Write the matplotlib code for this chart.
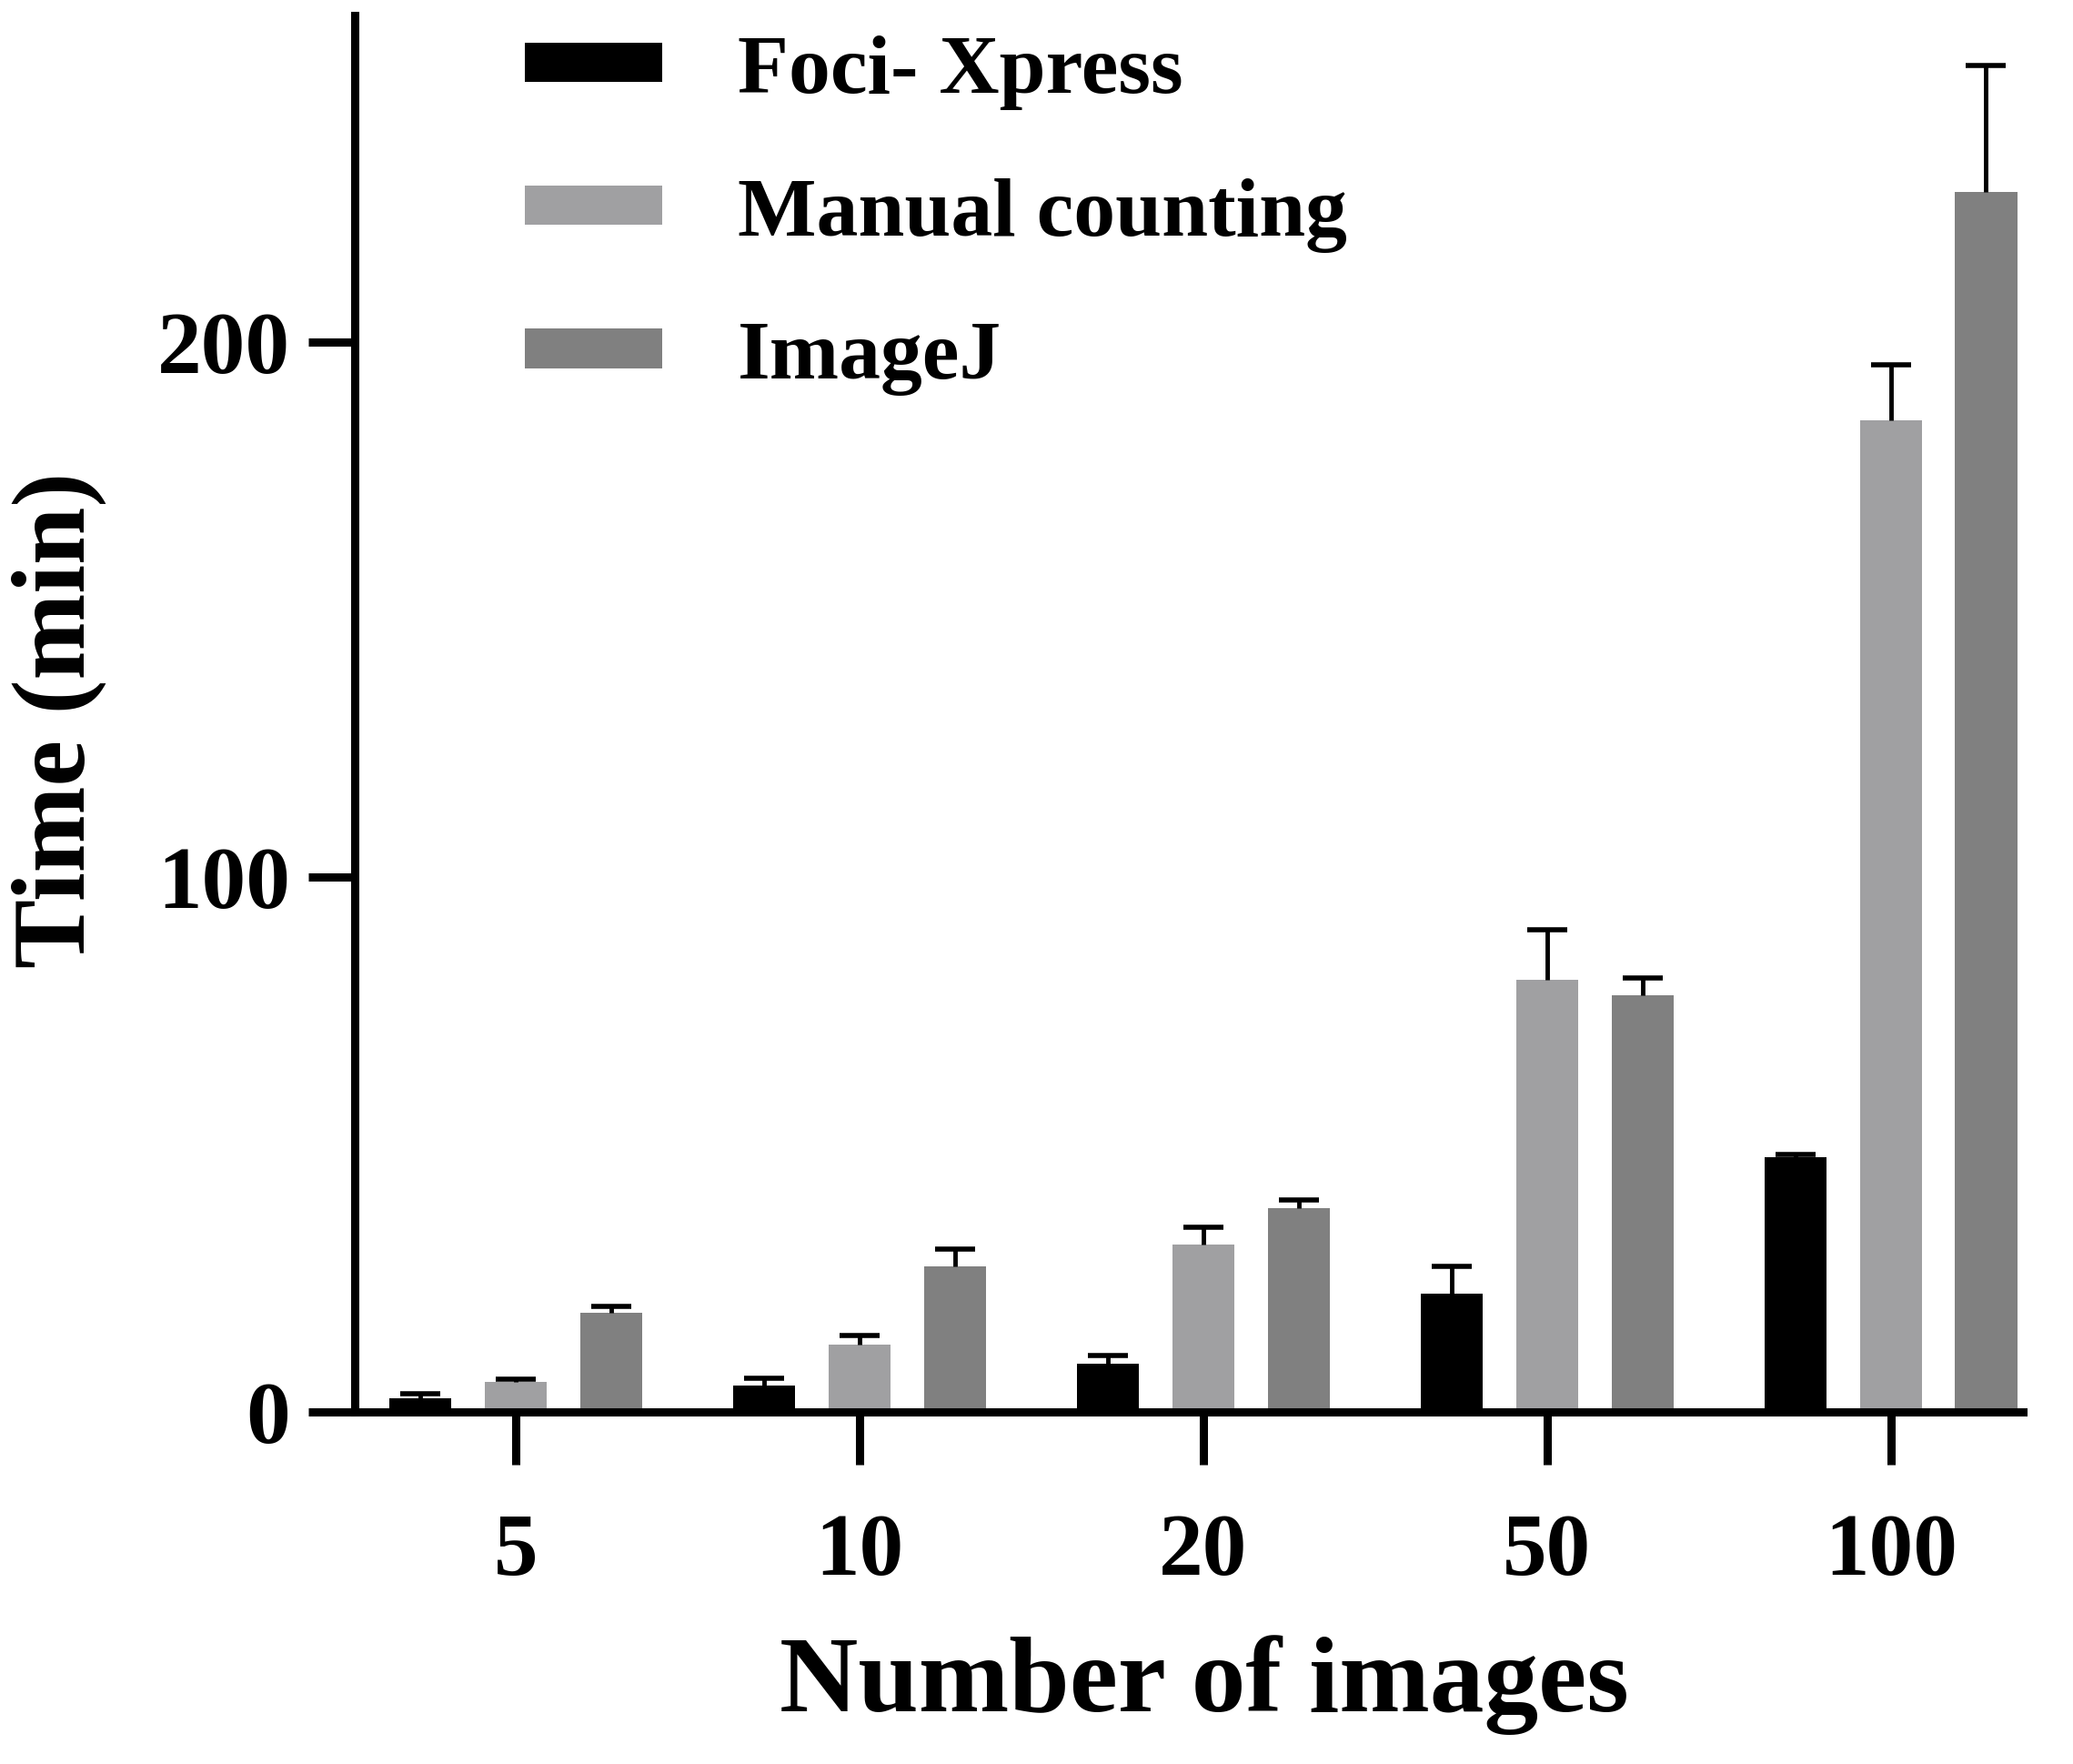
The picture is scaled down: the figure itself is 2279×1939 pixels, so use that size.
import numpy as np
import matplotlib
matplotlib.use('Agg')
import matplotlib.pyplot as plt
from matplotlib.patches import Patch

groups = ['5', '10', '20', '50', '100']
series = ['Foci- Xpress', 'Manual counting', 'ImageJ']
foci = [2.5, 5.0, 9.1, 22.2, 47.7]
foci_err = [1.0, 1.4, 1.5, 5.0, 0.5]
manual = [5.7, 12.6, 31.4, 80.8, 185.4]
manual_err = [0.5, 1.7, 3.2, 9.4, 10.4]
imagej = [18.5, 27.2, 38.1, 77.9, 228.0]
imagej_err = [1.3, 3.2, 1.5, 3.2, 23.7]
colors = ['#000000', '#a0a0a2', '#808080']

plt.rcParams['font.family'] = 'Liberation Serif'
plt.rcParams['font.weight'] = 'bold'

fig = plt.figure(figsize=(22.79, 19.39), dpi=100)
ax = fig.add_axes([0.171, 0.1995, 0.805, 0.7915])

x = np.arange(len(groups))
width = 0.18
offset = 0.277
vals = [foci, manual, imagej]
errs = [foci_err, manual_err, imagej_err]
for i in range(3):
    pos = x + (i - 1) * offset
    ax.bar(pos, vals[i], width, color=colors[i], zorder=2)
    eb = ax.errorbar(pos, vals[i], yerr=[np.zeros(len(groups)), errs[i]], fmt='none',
                     ecolor='black', elinewidth=3.5, capsize=16, capthick=4, zorder=3)
    # only the upper cap, like the original
    eb[1][0].set_visible(False)

ax.set_xlim(-0.469, 4.385)
ax.set_ylim(0, 261)
ax.set_yticks([0, 100, 200])
ax.set_xticks(x)
ax.set_xticklabels(groups)

for s in ['top', 'right']:
    ax.spines[s].set_visible(False)
for s in ['left', 'bottom']:
    ax.spines[s].set_linewidth(6.5)

ax.tick_params(axis='y', length=37, width=6.5, pad=14, labelsize=70)
ax.tick_params(axis='x', length=42, width=6.5, pad=38, labelsize=70)

fig.text(0.581, 0.045, 'Number of images', ha='center', va='center',
         fontsize=86, fontweight='bold')
fig.text(0.0286, 0.592, 'Time (min)', ha='center', va='center', rotation=90,
         fontsize=82, fontweight='bold')

handles = [Patch(facecolor=c, edgecolor='none') for c in colors]
ax.legend(handles, series, loc='upper left', bbox_to_anchor=(0.057, 1.04),
          frameon=False, fontsize=66, handlelength=1.65, handleheight=0.35,
          handletextpad=0.9, labelspacing=0.82)

fig.savefig('out.png', dpi=100)
